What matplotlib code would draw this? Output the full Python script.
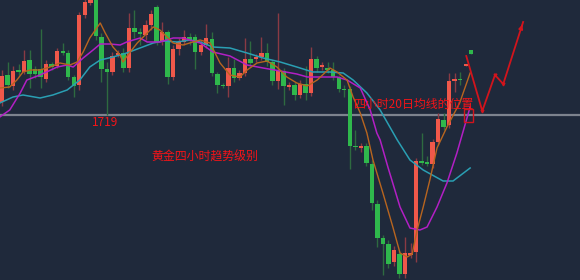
"""
Gold 4H candlestick chart with moving averages and a projected path.
"""

import numpy as np
import matplotlib

matplotlib.use("Agg")
import matplotlib.pyplot as plt

plt.rcParams["font.family"] = ["Noto Sans CJK SC", "DejaVu Sans"]

# OHLC (price units)
opens = [1732, 1759, 1748, 1764, 1762, 1774, 1765, 1765, 1755, 1770,
         1768, 1783, 1781, 1757, 1749, 1819, 1831, 1837, 1797, 1765,
         1762, 1779, 1781, 1766, 1806, 1802, 1799, 1809, 1827, 1792,
         1802, 1757, 1785, 1792, 1797, 1797, 1782, 1789, 1795, 1760,
         1749, 1748, 1766, 1756, 1761, 1775, 1775, 1777, 1781, 1772,
         1753, 1763, 1747, 1749, 1739, 1750, 1741, 1775, 1767, 1766,
         1764, 1757, 1745, 1745, 1688, 1686, 1688, 1670, 1630, 1596,
         1590, 1572, 1580, 1560, 1579, 1582, 1673, 1672, 1670, 1692,
         1714, 1709, 1753, 1755, 1768, 1784]
highs = [1764, 1772, 1768, 1770, 1784, 1784, 1768, 1805, 1774, 1772,
         1786, 1791, 1784, 1759, 1822, 1839, 1844, 1840, 1801, 1772,
         1782, 1784, 1786, 1821, 1824, 1806, 1814, 1824, 1829, 1812,
         1804, 1789, 1796, 1804, 1801, 1800, 1794, 1810, 1802, 1762,
         1751, 1777, 1775, 1764, 1796, 1793, 1780, 1797, 1791, 1774,
         1821, 1766, 1752, 1752, 1754, 1768, 1787, 1778, 1772, 1772,
         1772, 1759, 1749, 1748, 1704, 1691, 1691, 1674, 1634, 1599,
         1594, 1588, 1584, 1597, 1591, 1676, 1701, 1678, 1695, 1721,
         1721, 1761, 1761, 1762, 1770, 1784]
lows = [1728, 1746, 1744, 1759, 1760, 1746, 1756, 1746, 1752, 1764,
        1766, 1779, 1754, 1737, 1744, 1816, 1829, 1794, 1752, 1719,
        1759, 1777, 1762, 1762, 1796, 1789, 1794, 1804, 1789, 1789,
        1750, 1754, 1779, 1789, 1789, 1765, 1779, 1786, 1758, 1741,
        1746, 1737, 1752, 1754, 1758, 1768, 1772, 1774, 1768, 1749,
        1745, 1729, 1744, 1734, 1736, 1734, 1738, 1762, 1764, 1761,
        1754, 1742, 1737, 1665, 1684, 1682, 1668, 1624, 1587, 1559,
        1566, 1568, 1556, 1556, 1576, 1572, 1669, 1668, 1666, 1689,
        1704, 1706, 1742, 1749, 1768, 1780]
closes = [1758, 1749, 1763, 1762, 1773, 1760, 1760, 1757, 1770, 1767,
          1783, 1781, 1757, 1748, 1819, 1832, 1840, 1798, 1765, 1762,
          1778, 1781, 1766, 1806, 1802, 1800, 1809, 1820, 1792, 1802,
          1757, 1785, 1792, 1797, 1794, 1782, 1789, 1796, 1761, 1749,
          1748, 1766, 1756, 1761, 1775, 1771, 1777, 1781, 1772, 1753,
          1763, 1748, 1749, 1739, 1750, 1741, 1775, 1766, 1769, 1764,
          1757, 1745, 1744, 1688, 1687, 1688, 1671, 1631, 1596, 1590,
          1570, 1584, 1560, 1581, 1581, 1673, 1671, 1670, 1692, 1715,
          1707, 1753, 1755, 1754, 1770, 1780]

# moving average lines (candle index, price)
ma_fast_x = [-0.4, 1.4, 2.7, 3.8, 5.1, 6.9, 8.7, 10.5, 12.3, 13.6, 14.7, 15.9,
             17.8, 18.7, 20.1, 21.4, 21.9, 22.8, 24.5, 26.3, 27.4, 28.6, 29.9,
             31.0, 32.8, 34.6, 35.9, 37.7, 39.5, 41.3, 43.1, 44.4, 46.2, 48.0,
             49.8, 51.6, 53.4, 55.3, 57.1, 59.4, 60.7, 62.5, 63.6, 64.9, 66.1,
             67.2, 69.0, 70.8, 72.1, 73.4, 74.3, 75.2, 76.3, 77.5, 78.8, 80.6,
             82.9, 84.8]
ma_fast_y = [1746, 1747, 1754, 1762, 1764, 1764, 1767, 1771, 1769, 1772, 1782,
             1796, 1811, 1801, 1787, 1779, 1772, 1779, 1791, 1801, 1807, 1804,
             1797, 1791, 1789, 1792, 1794, 1791, 1771, 1759, 1757, 1764, 1771,
             1773, 1767, 1757, 1751, 1748, 1754, 1766, 1762, 1754, 1737, 1721,
             1701, 1674, 1641, 1607, 1581, 1577, 1580, 1604, 1627, 1654, 1686,
             1707, 1731, 1761]

ma_mid_x = [-0.4, 1.4, 3.3, 4.5, 6.9, 10.0, 11.8, 12.9, 14.7, 16.5, 17.8, 19.6,
            21.4, 22.6, 25.0, 26.3, 28.6, 31.0, 32.8, 34.6, 35.9, 38.2, 41.3,
            44.4, 47.3, 50.4, 53.4, 55.3, 57.6, 60.7, 62.5, 64.9, 66.7, 67.9,
            68.5, 69.9, 72.1, 73.9, 75.7, 77.0, 78.8, 80.6, 82.4, 84.8]
ma_mid_y = [1717, 1724, 1741, 1754, 1759, 1767, 1769, 1767, 1776, 1784, 1790,
            1790, 1789, 1792, 1796, 1792, 1792, 1796, 1796, 1793, 1791, 1782,
            1778, 1769, 1766, 1763, 1760, 1757, 1757, 1757, 1754, 1746, 1724,
            1701, 1694, 1667, 1627, 1606, 1604, 1607, 1627, 1651, 1681, 1727]

ma_slow_x = [-0.4, 2.0, 3.8, 6.9, 9.2, 11.8, 14.1, 15.9, 17.8, 20.1, 22.6, 25.0,
             27.4, 29.2, 31.7, 34.1, 35.9, 38.2, 41.3, 44.4, 47.3, 50.4, 53.4,
             56.3, 59.4, 61.8, 63.6, 66.1, 68.5, 71.6, 73.9, 76.3, 79.9, 81.7,
             84.8]
ma_slow_y = [1731, 1737, 1739, 1736, 1739, 1744, 1754, 1767, 1774, 1777, 1781,
             1786, 1791, 1793, 1792, 1794, 1792, 1787, 1786, 1781, 1776, 1772,
             1767, 1762, 1762, 1761, 1754, 1741, 1724, 1694, 1674, 1664, 1653,
             1653, 1666]

# projected path drawn on the chart
path_x = [84.1, 87.0, 89.3, 90.8, 94.4]
path_y = [1778, 1723, 1759, 1750, 1812]

level_price = 1719
level_label = "1719"
box_x = (83.6, 85.3)
box_y = (1712, 1725)
note_level = "四小时20日均线的位置"
note_title = "黄金四小时趋势级别"

BG = "#1f293b"
UP = "#f0584a"
DOWN = "#2fb84c"
UP_WICK = "#8a3a44"
DOWN_WICK = "#2e6a40"
TEXT_RED = "#f41418"
PATH_RED = "#d2141c"


def main():
    fig = plt.figure(figsize=(5.8, 2.8), dpi=100)
    fig.patch.set_facecolor(BG)
    ax = fig.add_axes([0, 0, 1, 1])
    ax.set_facecolor(BG)

    o = np.array(opens, dtype=float)
    h = np.array(highs, dtype=float)
    l = np.array(lows, dtype=float)
    c = np.array(closes, dtype=float)
    idx = np.arange(len(o))
    up = c >= o

    # level line
    ax.axhline(level_price, color="#7d838e", linewidth=1.6, zorder=1)

    # wicks
    ax.vlines(idx[up], l[up], h[up], color=UP_WICK, linewidth=1, zorder=2)
    ax.vlines(idx[~up], l[~up], h[~up], color=DOWN_WICK, linewidth=1, zorder=2)

    # bodies
    bottom = np.minimum(o, c)
    height = np.maximum(np.abs(c - o), 1.2)
    ax.bar(idx[up], height[up], bottom=bottom[up], width=0.8,
           color=UP, linewidth=0, zorder=3)
    ax.bar(idx[~up], height[~up], bottom=bottom[~up], width=0.8,
           color=DOWN, linewidth=0, zorder=3)

    # moving averages
    ax.plot(ma_slow_x, ma_slow_y, color="#2a9fb3", linewidth=1.1, zorder=4)
    ax.plot(ma_mid_x, ma_mid_y, color="#b21fc4", linewidth=1.1, zorder=4)
    ax.plot(ma_fast_x, ma_fast_y, color="#b8651f", linewidth=1.0, zorder=4)

    # projected path
    ax.plot(path_x, path_y, color=PATH_RED, linewidth=1.3, zorder=5)
    ax.plot(path_x[1:-1], path_y[1:-1], linestyle="none", marker="v",
            markersize=2, color=PATH_RED, zorder=5)
    ax.annotate("", xy=(path_x[-1], path_y[-1]),
                xytext=(path_x[-2] + 0.9 * (path_x[-1] - path_x[-2]),
                        path_y[-2] + 0.9 * (path_y[-1] - path_y[-2])),
                arrowprops=dict(arrowstyle="-|>", color=PATH_RED,
                                mutation_scale=6, lw=1.2), zorder=6)

    ax.add_patch(plt.Rectangle((box_x[0], box_y[0]), box_x[1] - box_x[0],
                               box_y[1] - box_y[0], fill=False,
                               edgecolor=PATH_RED, linewidth=1, zorder=6))

    # labels
    ax.text(18.6, level_price - 1.5, level_label, color=TEXT_RED, fontsize=8.5,
            fontweight="medium", ha="center", va="top", zorder=7)
    ax.text(63.7, 1730, note_level, color=TEXT_RED, fontsize=8.6,
            fontweight="medium", ha="left", va="center", zorder=7)
    ax.text(27.0, 1677, note_title, color=TEXT_RED, fontsize=8.6,
            fontweight="medium", ha="left", va="center", zorder=7)

    ax.set_xlim(-0.36, 104.7)
    ax.set_ylim(1554, 1834)
    ax.axis("off")

    fig.savefig("out.png", dpi=100, facecolor=BG)
    plt.close(fig)


if __name__ == "__main__":
    main()
